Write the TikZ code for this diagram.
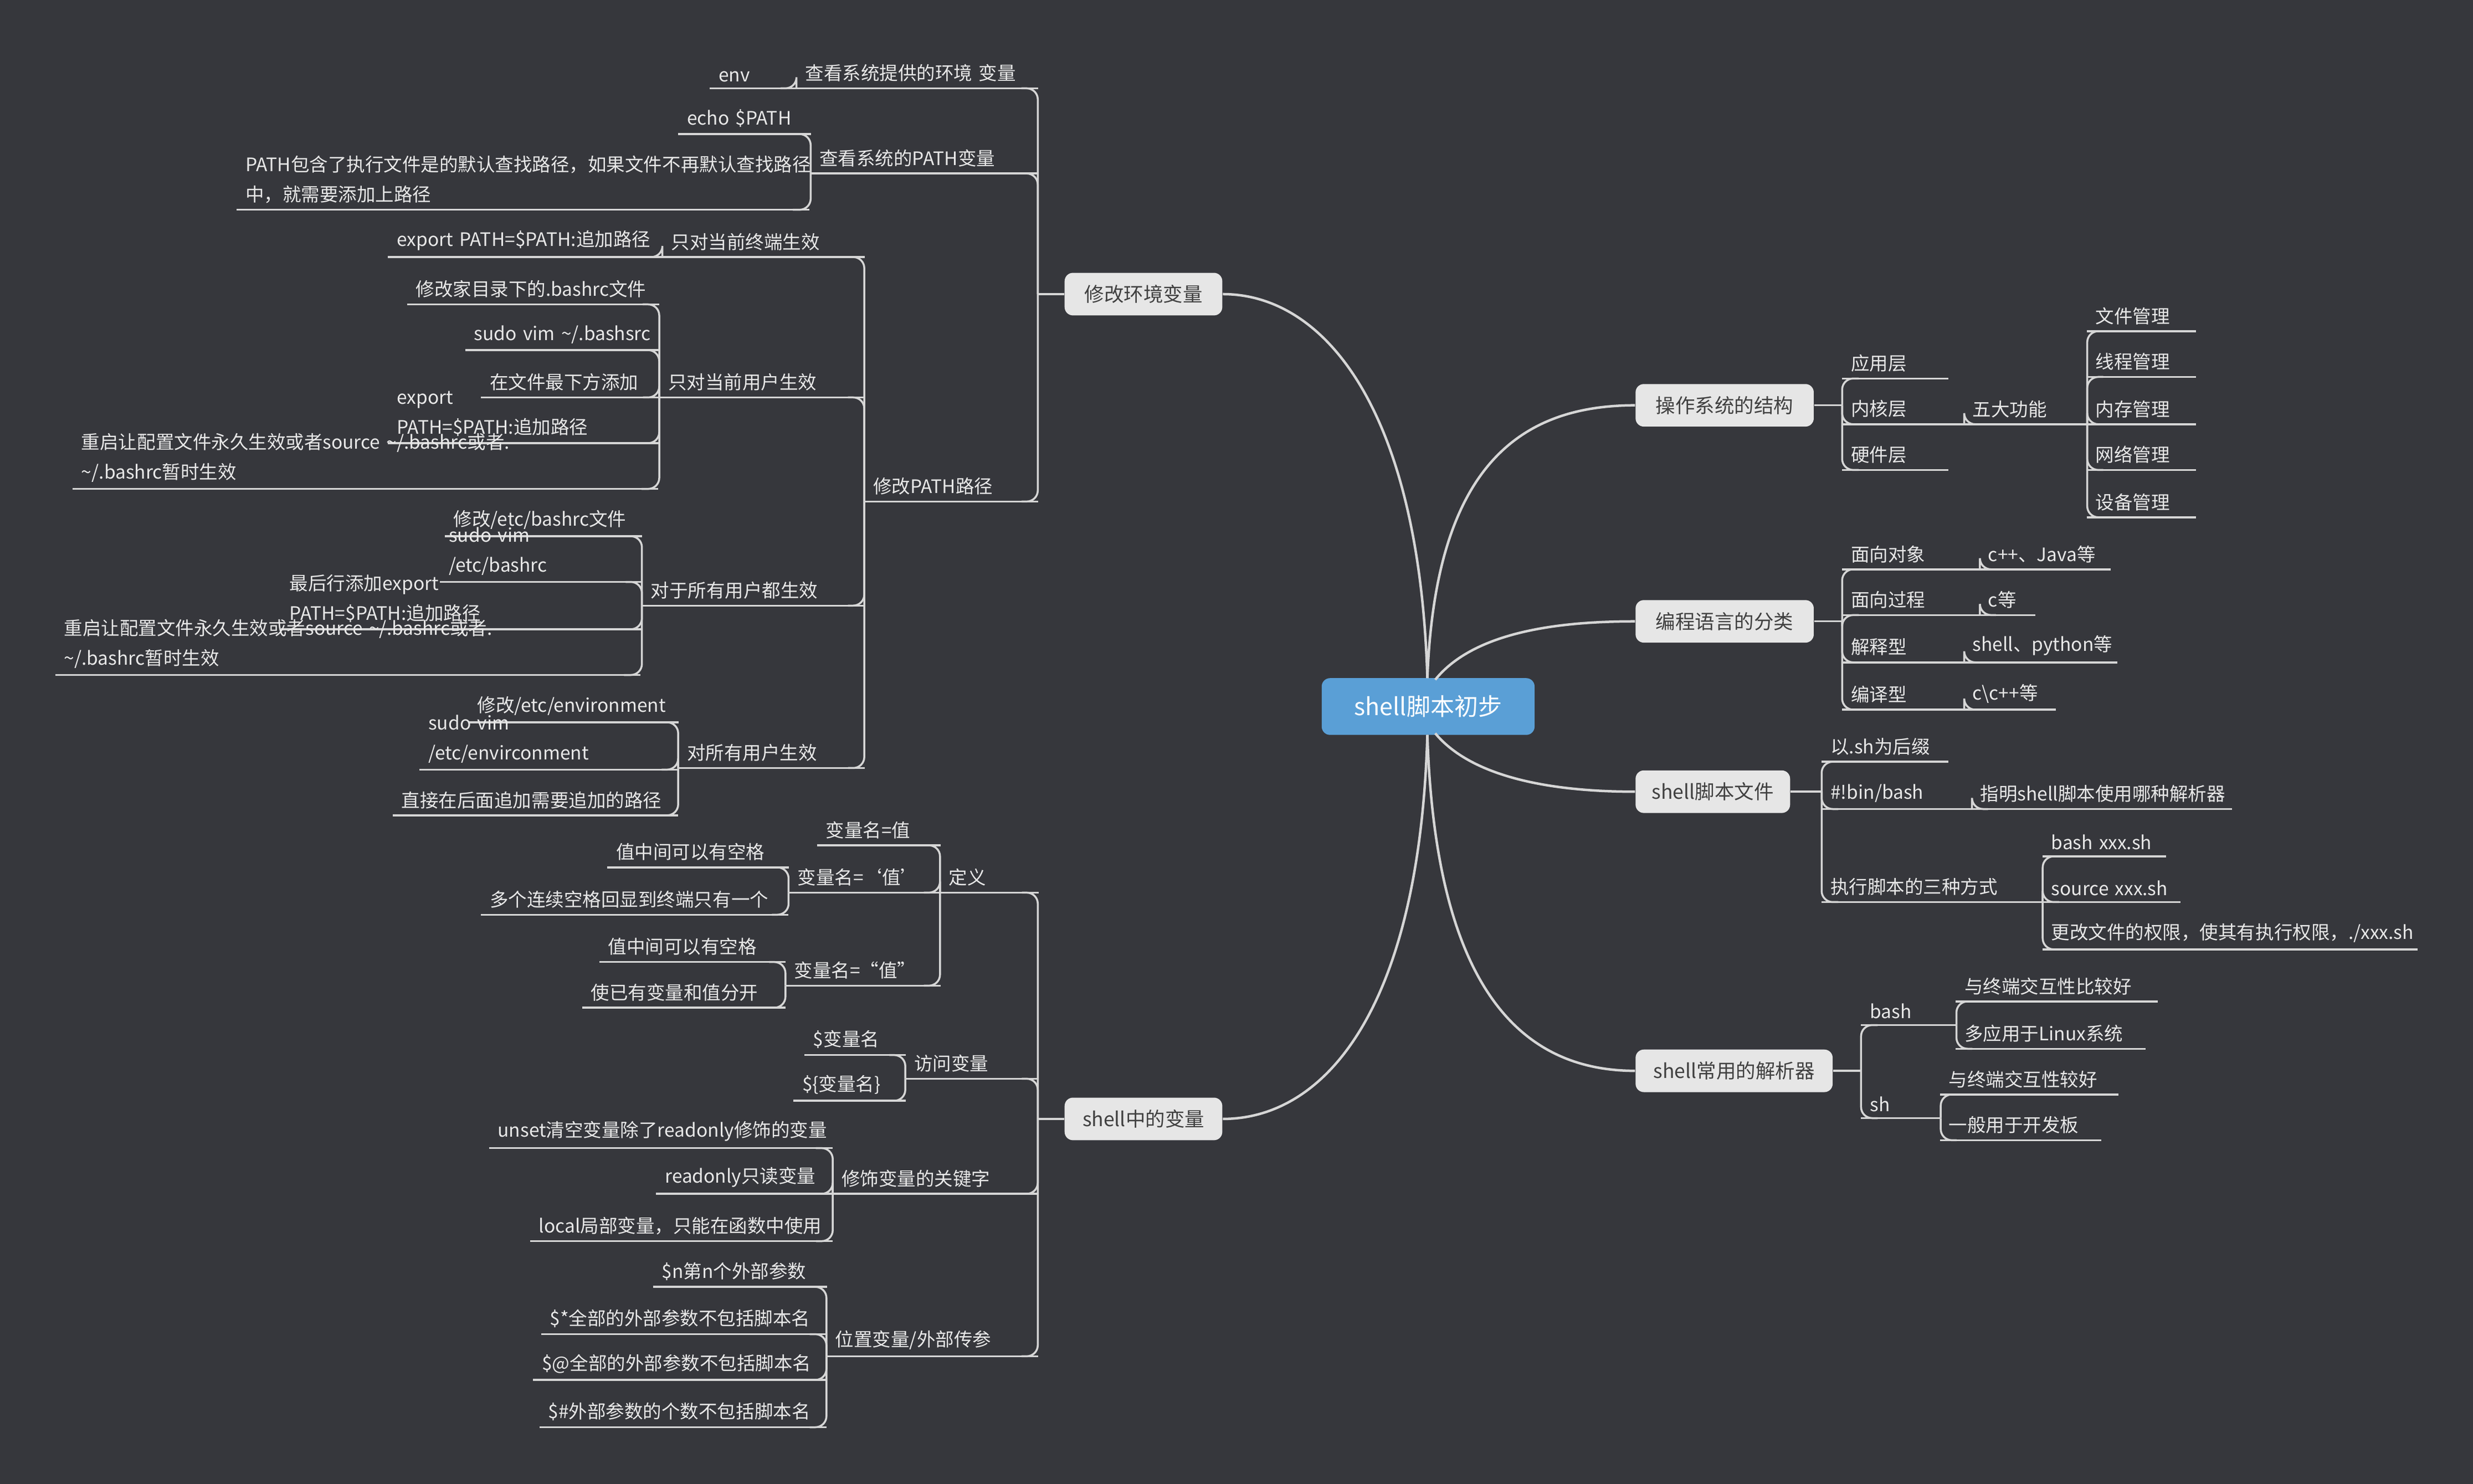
\documentclass[tikz,border=0pt]{standalone}
\usepackage{fontspec}
\setmainfont{Noto Sans CJK SC}
\definecolor{bg}{HTML}{36373C}
\definecolor{ln}{HTML}{D6D6D6}
\definecolor{tx}{HTML}{E8E8E8}
\definecolor{bx}{HTML}{E6E6E6}
\definecolor{ctr}{HTML}{5A9FD6}
\tikzset{
 leaf/.style={inner xsep=3pt,inner ysep=2.2pt,align=left,text=tx,font=\fontsize{6.7}{10.8}\selectfont},
 ln/.style={draw=ln,line width=0.7pt},
 box/.style={fill=bx,rounded corners=3pt,text=black!75,font=\fontsize{7.1}{9}\selectfont,minimum height=0.54cm,inner sep=0pt},
 cur/.style={draw=ln,line width=0.9pt},
}
\newcommand\lf[5]{%
 \pgfmathsetlengthmacro\tw{(#3-#2)*0.5669pt-6pt}%
 \node[leaf,text width=\tw,anchor=south west] (#1) at (#2,#4) {#5};
 \draw[ln] (#1.south west) -- (#1.south east);}
\newcommand\cl[2]{\draw[ln,rounded corners=4pt] (#1.south west) |- ([xshift=-6pt]#2.south east);}
\newcommand\cR[2]{\draw[ln,rounded corners=4pt] (#1.south east) |- ([xshift=6pt]#2.south west);}
\newcommand\kl[2]{\draw[ln,rounded corners=4pt] (#1) |- ([xshift=-6pt]#2.south east);}
\newcommand\kr[2]{\draw[ln,rounded corners=4pt] (#1) |- ([xshift=6pt]#2.south west);}
\begin{document}
\begin{tikzpicture}[x=0.02cm,y=-0.02cm]
\fill[bg] (0,0) rectangle (1568,941);
\useasboundingbox (0,0) rectangle (1568,941);
% center and main boxes
\node[fill=ctr,rounded corners=3pt,text=white,font=\fontsize{8.6}{10}\selectfont,minimum width=2.7cm,minimum height=0.72cm,inner sep=0pt] (c) at (905.5,448) {shell脚本初步};
\node[box,minimum width=2cm] (m1) at (725,186.5) {修改环境变量};
\node[box,minimum width=2cm] (m2) at (725,709.5) {shell中的变量};
\node[box,minimum width=2.26cm] (m3) at (1093.5,257) {操作系统的结构};
\node[box,minimum width=2.26cm] (m4) at (1093.5,394) {编程语言的分类};
\node[box,minimum width=1.96cm] (m5) at (1086,502) {shell脚本文件};
\node[box,minimum width=2.5cm] (m6) at (1099.5,679) {shell常用的解析器};
\draw[cur] (905,430) .. controls (900,260) and (840,186.5) .. (m1.east);
\draw[cur] (905,466) .. controls (900,640) and (840,709.5) .. (m2.east);
\draw[cur] (905,430) .. controls (910,300) and (960,257) .. (m3.west);
\draw[cur] (910,431) .. controls (935,400) and (990,394) .. (m4.west);
\draw[cur] (910,465) .. controls (935,495) and (990,502) .. (m5.west);
\draw[cur] (905,466) .. controls (910,620) and (960,679) .. (m6.west);
% ---- left upper
\coordinate (k1) at (658,186.5); \draw[ln] (m1.west) -- (k1);
\lf{a1}{505}{658}{56}{查看系统提供的环境 变量}
\lf{a1a}{450}{505}{56}{env}
\lf{a2}{514}{658}{110}{查看系统的PATH变量}
\lf{a2a}{430}{514}{85}{echo \$PATH}
\lf{a2b}{150}{514}{133}{PATH包含了执行文件是的默认查找路径，如果文件不再默认查找路径\\中，就需要添加上路径}
\lf{a3}{548}{658}{318}{修改PATH路径}
\kl{k1}{a1}\kl{k1}{a2}\kl{k1}{a3}
\cl{a1}{a1a}\cl{a2}{a2a}\cl{a2}{a2b}
\lf{b1}{420}{548}{163}{只对当前终端生效}
\lf{b1a}{246}{420}{163}{export PATH=\$PATH:追加路径}
\lf{b2}{418}{548}{252}{只对当前用户生效}
\lf{b2a}{258}{418}{193}{修改家目录下的.bashrc文件}
\lf{b2b}{295}{418}{222}{sudo vim \textasciitilde/.bashsrc}
\lf{b2c}{305}{418}{252}{在文件最下方添加}
\lf{b2d}{246}{418}{281}{export PATH=\$PATH:追加路径}
\lf{b2e}{46}{418}{310}{重启让配置文件永久生效或者source \textasciitilde/.bashrc或者. \textasciitilde/.bashrc暂时生效}
\lf{b3}{407}{548}{384}{对于所有用户都生效}
\lf{b3a}{282}{407}{340}{修改/etc/bashrc文件}
\lf{b3b}{279}{407}{369}{sudo vim /etc/bashrc}
\lf{b3c}{178}{407}{399}{最后行添加export PATH=\$PATH:追加路径}
\lf{b3d}{35}{407}{428}{重启让配置文件永久生效或者source \textasciitilde/.bashrc或者. \textasciitilde/.bashrc暂时生效}
\lf{b4}{430}{548}{487}{对所有用户生效}
\lf{b4a}{297}{430}{458}{修改/etc/environment}
\lf{b4b}{266}{430}{488}{sudo vim /etc/envirconment}
\lf{b4c}{249}{430}{517}{直接在后面追加需要追加的路径}
\cl{a3}{b1}\cl{a3}{b2}\cl{a3}{b3}\cl{a3}{b4}
\cl{b1}{b1a}
\cl{b2}{b2a}\cl{b2}{b2b}\cl{b2}{b2c}\cl{b2}{b2d}\cl{b2}{b2e}
\cl{b3}{b3a}\cl{b3}{b3b}\cl{b3}{b3c}\cl{b3}{b3d}
\cl{b4}{b4a}\cl{b4}{b4b}\cl{b4}{b4c}
% ---- left lower
\coordinate (k2) at (658,709.5); \draw[ln] (m2.west) -- (k2);
\lf{c1}{596}{658}{566}{定义}
\lf{c1a}{518}{596}{536}{变量名=值}
\lf{c1b}{500}{596}{566}{变量名=‘值’}
\lf{c1c}{498}{596}{625}{变量名=“值”}
\lf{c1b1}{385}{500}{550}{值中间可以有空格}
\lf{c1b2}{305}{500}{580}{多个连续空格回显到终端只有一个}
\lf{c1c1}{380}{498}{610}{值中间可以有空格}
\lf{c1c2}{369}{498}{639}{使已有变量和值分开}
\lf{c2}{574}{658}{684}{访问变量}
\lf{c2a}{510}{574}{669}{\$变量名}
\lf{c2b}{503}{574}{698}{\$\{变量名\}}
\lf{c3}{528}{658}{757}{修饰变量的关键字}
\lf{c3a}{310}{528}{728}{unset清空变量除了readonly修饰的变量}
\lf{c3b}{416}{528}{757}{readonly只读变量}
\lf{c3c}{336}{528}{787}{local局部变量，只能在函数中使用}
\lf{c4}{524}{658}{860}{位置变量/外部传参}
\lf{c4a}{414}{524}{816}{\$n第n个外部参数}
\lf{c4b}{343}{524}{846}{\$*全部的外部参数不包括脚本名}
\lf{c4c}{338}{524}{875}{\$@全部的外部参数不包括脚本名}
\lf{c4d}{342}{524}{905}{\$\#外部参数的个数不包括脚本名}
\kl{k2}{c1}\kl{k2}{c2}\kl{k2}{c3}\kl{k2}{c4}
\cl{c1}{c1a}\cl{c1}{c1b}\cl{c1}{c1c}
\cl{c1b}{c1b1}\cl{c1b}{c1b2}\cl{c1c}{c1c1}\cl{c1c}{c1c2}
\cl{c2}{c2a}\cl{c2}{c2b}
\cl{c3}{c3a}\cl{c3}{c3b}\cl{c3}{c3c}
\cl{c4}{c4a}\cl{c4}{c4b}\cl{c4}{c4c}\cl{c4}{c4d}
% ---- right: OS
\coordinate (k3) at (1168,257); \draw[ln] (m3.east) -- (k3);
\lf{d1}{1168}{1235}{240}{应用层}
\lf{d2}{1168}{1245}{269}{内核层}
\lf{d3}{1168}{1235}{298}{硬件层}
\lf{d2a}{1245}{1323}{269}{五大功能}
\kr{k3}{d1}\kr{k3}{d2}\kr{k3}{d3}\cR{d2}{d2a}
\lf{e1}{1323}{1392}{210}{文件管理}
\lf{e2}{1323}{1392}{239}{线程管理}
\lf{e3}{1323}{1392}{269}{内存管理}
\lf{e4}{1323}{1392}{298}{网络管理}
\lf{e5}{1323}{1392}{328}{设备管理}
\cR{d2a}{e1}\cR{d2a}{e2}\cR{d2a}{e3}\cR{d2a}{e4}\cR{d2a}{e5}
% ---- right: languages
\coordinate (k4) at (1168,394); \draw[ln] (m4.east) -- (k4);
\lf{f1}{1168}{1255}{361}{面向对象}
\lf{f2}{1168}{1255}{390}{面向过程}
\lf{f3}{1168}{1245}{420}{解释型}
\lf{f4}{1168}{1245}{450}{编译型}
\lf{f1a}{1255}{1338}{361}{c++、Java等}
\lf{f2a}{1255}{1290}{390}{c等}
\lf{f3a}{1245}{1342}{420}{shell、python等}
\lf{f4a}{1245}{1303}{450}{c\textbackslash c++等}
\kr{k4}{f1}\kr{k4}{f2}\kr{k4}{f3}\kr{k4}{f4}
\cR{f1}{f1a}\cR{f2}{f2a}\cR{f3}{f3a}\cR{f4}{f4a}
% ---- right: script file
\coordinate (k5) at (1155,502); \draw[ln] (m5.east) -- (k5);
\lf{g1}{1155}{1235}{483}{以.sh为后缀}
\lf{g2}{1155}{1250}{513}{\#!bin/bash}
\lf{g2a}{1250}{1415}{513}{指明shell脚本使用哪种解析器}
\lf{g3}{1155}{1295}{572}{执行脚本的三种方式}
\lf{g3a}{1295}{1373}{543}{bash xxx.sh}
\lf{g3b}{1295}{1382}{572}{source xxx.sh}
\lf{g3c}{1295}{1533}{602}{更改文件的权限，使其有执行权限，./xxx.sh}
\kr{k5}{g1}\kr{k5}{g2}\kr{k5}{g3}\cR{g2}{g2a}
\cR{g3}{g3a}\cR{g3}{g3b}\cR{g3}{g3c}
% ---- right: interpreters
\coordinate (k6) at (1180,679); \draw[ln] (m6.east) -- (k6);
\lf{h1}{1180}{1240}{650}{bash}
\lf{h2}{1180}{1230}{709}{sh}
\lf{h1a}{1240}{1368}{635}{与终端交互性比较好}
\lf{h1b}{1240}{1360}{665}{多应用于Linux系统}
\lf{h2a}{1230}{1343}{694}{与终端交互性较好}
\lf{h2b}{1230}{1332}{723}{一般用于开发板}
\kr{k6}{h1}\kr{k6}{h2}
\cR{h1}{h1a}\cR{h1}{h1b}\cR{h2}{h2a}\cR{h2}{h2b}
\end{tikzpicture}
\end{document}
